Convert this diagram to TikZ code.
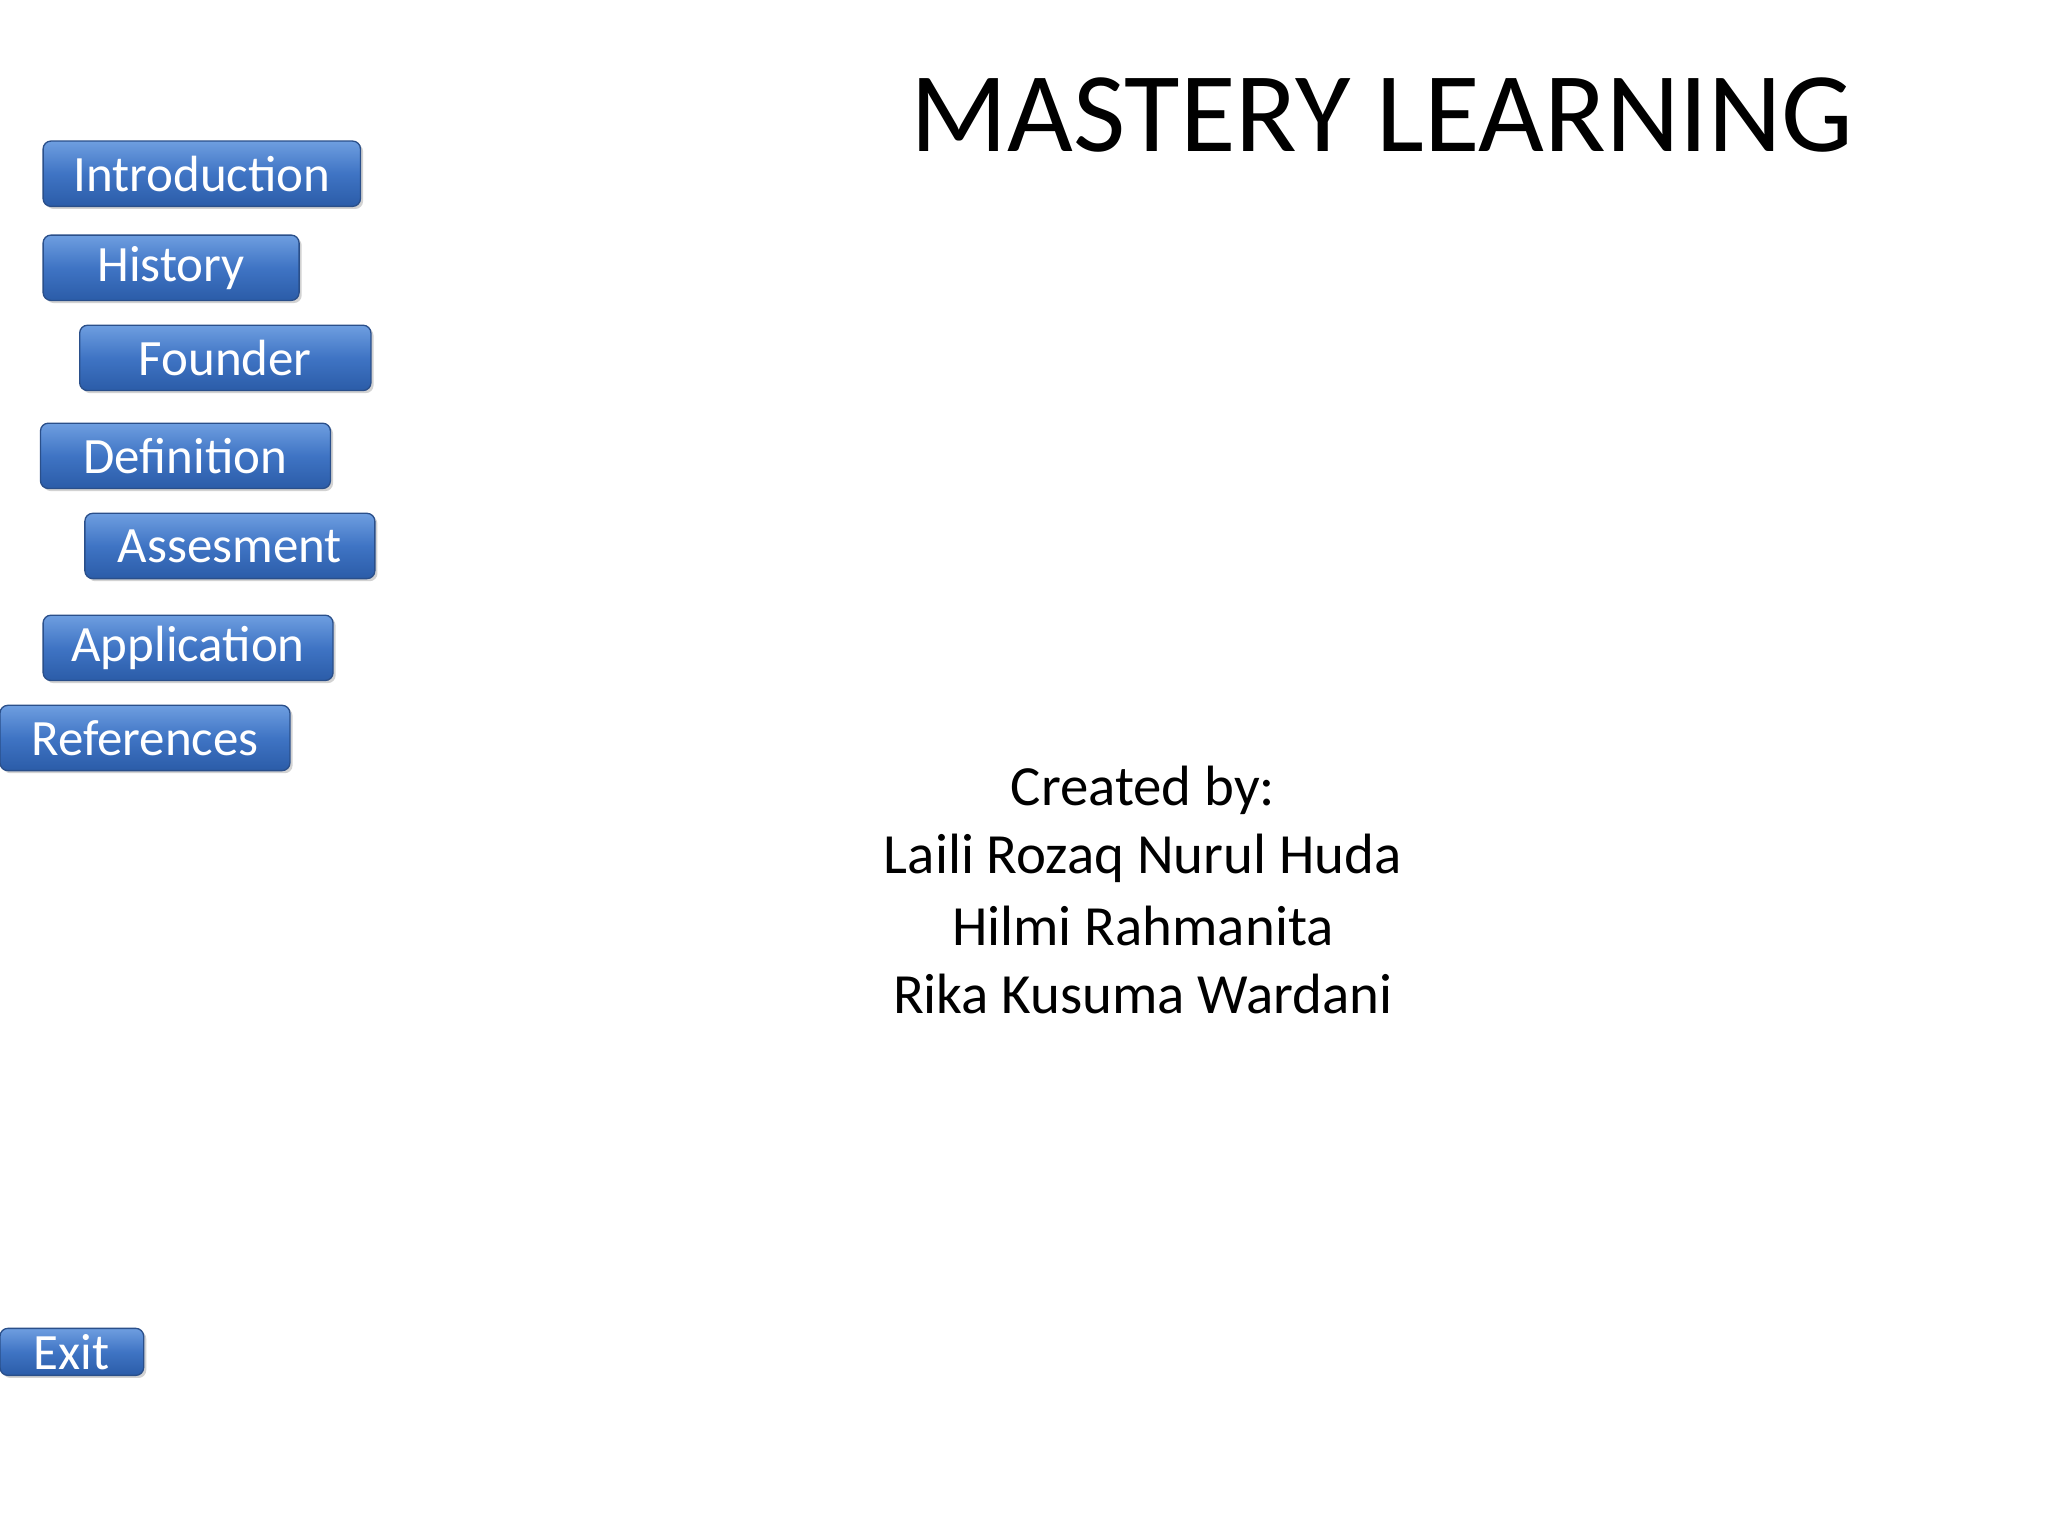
\documentclass[tikz,border=0pt]{standalone}
\usepackage{fontspec}
\setmainfont{Carlito}
\usetikzlibrary{shadows}
\definecolor{btop}{HTML}{6E9EE0}
\definecolor{bmid}{HTML}{3F74C4}
\definecolor{bbot}{HTML}{2B5CA8}
\definecolor{bdraw}{HTML}{2A4F8A}
\begin{document}
\begin{tikzpicture}[x=1pt,y=-1pt,
 btn/.style={draw=bdraw, line width=1pt, rounded corners=6pt, top color=btop, bottom color=bbot, middle color=bmid, drop shadow={opacity=0.35,shadow xshift=2pt,shadow yshift=-2pt}, text=white, font=\fontsize{39}{41}\selectfont, inner sep=0pt},
 lbl/.style={font=\fontsize{43.5}{45}\selectfont}]
\fill[white] (0,0) rectangle (1568,1176);
\useasboundingbox (0,0) rectangle (1568,1176);
\node[font=\fontsize{87}{89}\selectfont] (title) at (1058,88) {MASTERY LEARNING};
\node[btn, minimum width=243pt, minimum height=50pt] (intro) at (154.5,133) {Introduction};
\node[btn, minimum width=196pt, minimum height=50pt] (hist) at (131,205) {History};
\node[btn, minimum width=223pt, minimum height=50pt] (found) at (172.5,274) {Founder};
\node[btn, minimum width=222pt, minimum height=50pt] (def) at (142,349) {Definition};
\node[btn, minimum width=222pt, minimum height=50pt] (ass) at (176,418) {Assesment};
\node[btn, minimum width=222pt, minimum height=50pt] (app) at (144,496) {Application};
\node[btn, minimum width=222pt, minimum height=50pt] (ref) at (111,565) {References};
\node[btn, minimum width=110pt, minimum height=36pt] (exit) at (55,1035) {Exit};
\node[lbl] (c1) at (875,605) {Created by:};
\node[lbl] (c2) at (875,657) {Laili Rozaq Nurul Huda};
\node[lbl] (c3) at (875,709) {Hilmi Rahmanita};
\node[lbl] (c4) at (875,761) {Rika Kusuma Wardani};
\end{tikzpicture}
\end{document}
